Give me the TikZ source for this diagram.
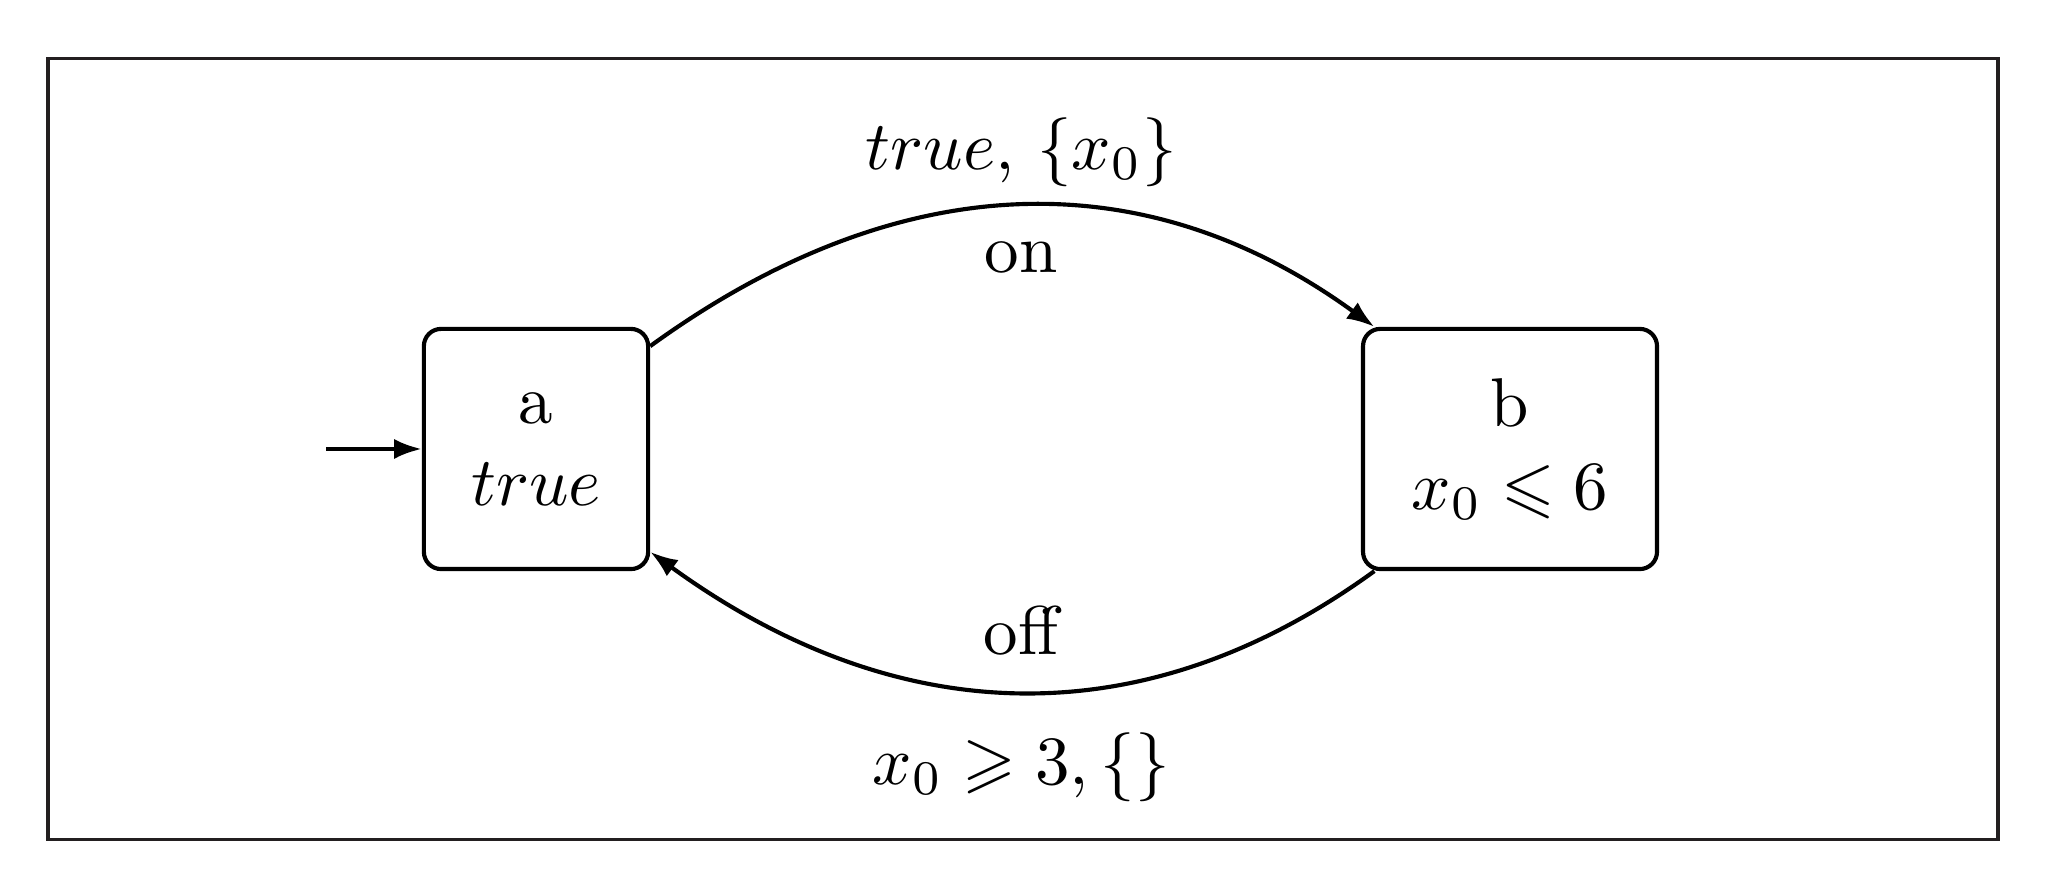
\documentclass[tikz,border=0pt]{standalone}
\usepackage{amssymb}
\usetikzlibrary{arrows.meta}
\definecolor{framecol}{RGB}{35,31,32}
\begin{document}
\begin{tikzpicture}[x=0.1449pt,y=0.1449pt, line width=0.6pt,
  state/.style={draw, rounded corners=2.5pt, align=center, inner sep=0pt, minimum height=34.8pt},
  edge/.style={-{Latex[length=4pt,width=2.9pt]}},
  lbl/.style={anchor=base, inner sep=0pt, xshift=1.3pt}]
\useasboundingbox (0,0) rectangle (2046,889);
\draw[line width=0.45pt, framecol] (48,49.5) rectangle (1998,830.3);
\node[state, minimum width=32.5pt] (a) at (536,440) {a\\$true$};
\node[state, minimum width=42.6pt] (b) at (1510,440) {b\\$x_0\leqslant 6$};
\coordinate (init) at (326,440);
\draw[edge] (init) -- (a);
\draw[edge] (a.42) to[out=36,in=144,looseness=1.04]
  node[lbl,yshift=5.4pt]{$true$, $\{x_0\}$}
  node[lbl,yshift=-9.6pt]{on} (b.138);
\draw[edge] (b.222) to[out=216,in=-36,looseness=1.04]
  node[lbl,yshift=5.4pt]{off}
  node[lbl,yshift=-13.5pt]{$x_0\geqslant 3,\{\}$} (a.-42);
\end{tikzpicture}
\end{document}
